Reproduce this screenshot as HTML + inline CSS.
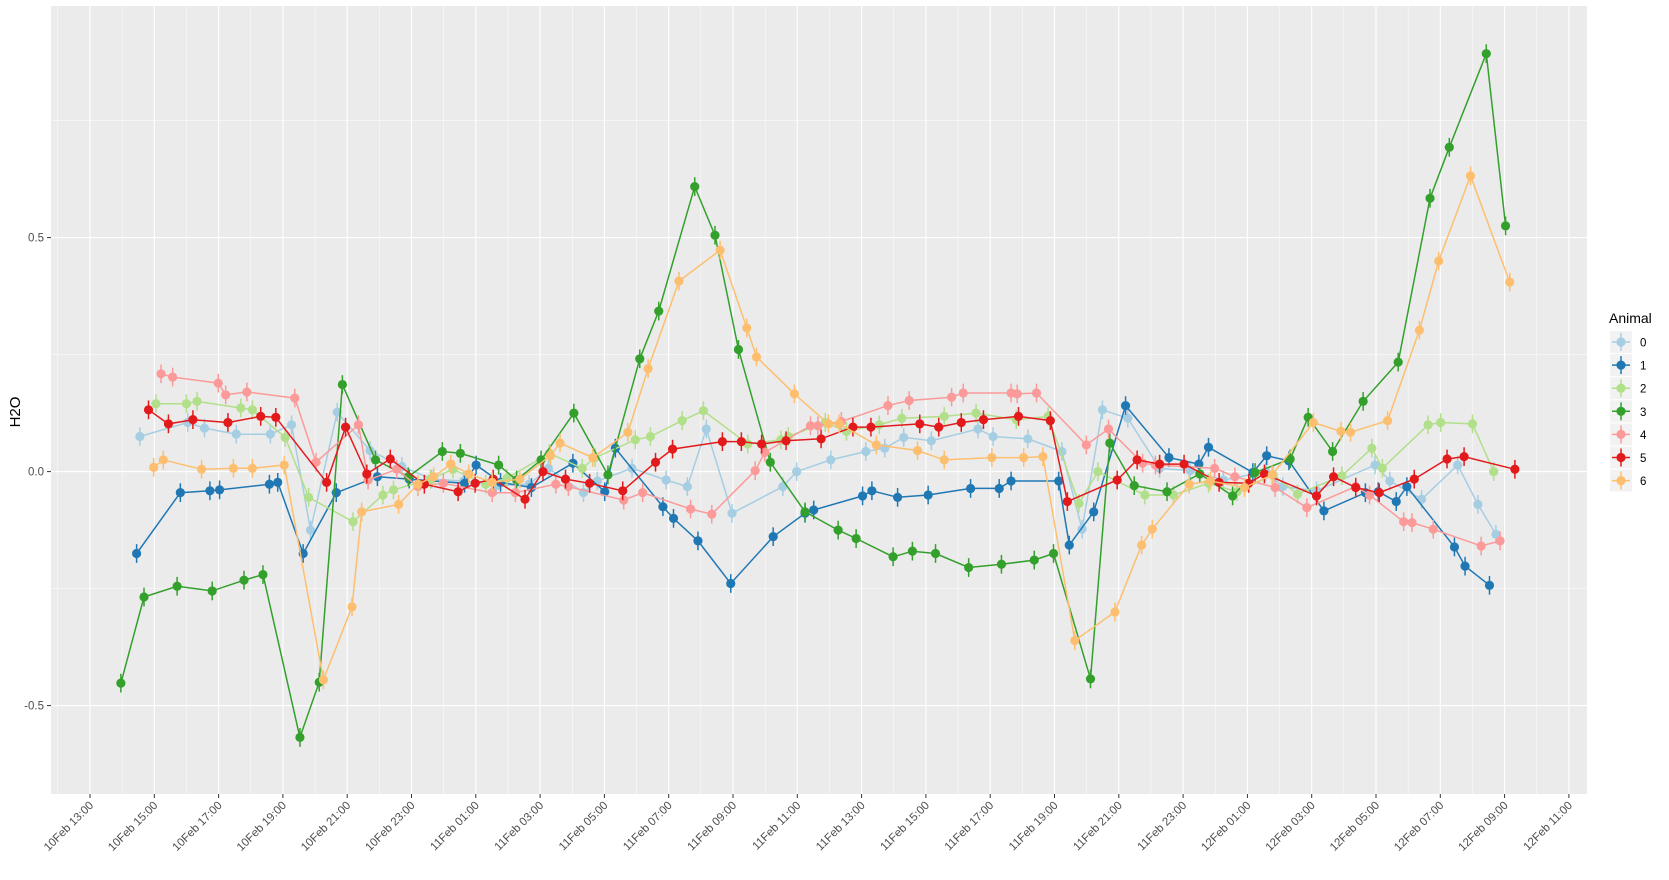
<!DOCTYPE html>
<html><head><meta charset="utf-8"><style>
html,body{margin:0;padding:0;background:#fff;}
svg{display:block;font-family:"Liberation Sans",Arial,sans-serif;}
</style></head><body>
<svg id="chart" width="1669" height="880">
<rect x="51" y="6" width="1536" height="788" fill="#ebebeb"/>
<g id="grid"></g>
<g id="series"></g>
<g id="axes"></g>
<text transform="translate(20,412) rotate(-90)" text-anchor="middle" font-size="15" fill="#000">H2O</text>
<g id="legend">
<text x="1609" y="323" font-size="14" fill="#000">Animal</text>
</g>
</svg>
<script>
const colors = ["#a6cee3","#1f78b4","#b2df8a","#33a02c","#fb9a99","#e31a1c","#fdbf6f"];
const yTicks = [-0.5, 0, 0.5];
const yTickLabels = ["-0.5","0.0","0.5"];
const xTickHours = [13,15,17,19,21,23,25,27,29,31,33,35,37,39,41,43,45,47,49,51,53,55,57,59];
const xTickLabels = ["10Feb 13:00","10Feb 15:00","10Feb 17:00","10Feb 19:00","10Feb 21:00","10Feb 23:00","11Feb 01:00","11Feb 03:00","11Feb 05:00","11Feb 07:00","11Feb 09:00","11Feb 11:00","11Feb 13:00","11Feb 15:00","11Feb 17:00","11Feb 19:00","11Feb 21:00","11Feb 23:00","12Feb 01:00","12Feb 03:00","12Feb 05:00","12Feb 07:00","12Feb 09:00","12Feb 11:00"];
const errHalf = 0.02;
const t0 = [14.55,16.04,16.56,17.55,18.61,19.27,19.86,20.69,21.71,22.70,23.63,24.62,25.64,26.66,27.26,28.35,28.78,29.86,30.92,31.58,32.17,32.97,34.55,34.98,36.04,37.13,37.72,38.31,39.17,40.62,41.09,42.17,43.23,43.86,44.49,45.28,46.27,47.22,48.25,49.57,50.10,51.15,52.97,53.43,54.42,55.54,56.17,56.73];
const v0 = [0.075,0.105,0.093,0.08,0.08,0.1,-0.125,0.127,0.045,0.011,-0.016,-0.02,-0.03,-0.027,0.007,-0.045,-0.02,0.007,-0.018,-0.032,0.091,-0.089,-0.032,0,0.025,0.043,0.05,0.073,0.066,0.091,0.075,0.07,0.043,-0.123,0.132,0.114,0.007,0.002,-0.018,0,-0.032,-0.041,0.014,-0.02,-0.059,0.014,-0.07,-0.134];
const t1 = [14.45,15.81,16.73,17.03,18.58,18.84,19.63,20.66,21.94,22.93,24.65,25.01,25.77,26.73,28.02,29.01,29.34,30.82,31.15,31.91,32.93,34.25,35.24,35.51,37.03,37.32,38.12,39.07,40.39,41.28,41.65,43.13,43.46,44.22,45.21,46.56,47.49,47.79,49.17,49.60,50.29,51.38,52.67,53.07,53.63,53.96,55.44,55.77,56.53];
const v1 = [-0.175,-0.045,-0.041,-0.039,-0.027,-0.023,-0.175,-0.045,-0.011,-0.016,-0.025,0.014,-0.023,-0.034,0.018,-0.043,0.05,-0.075,-0.1,-0.148,-0.239,-0.139,-0.089,-0.082,-0.052,-0.041,-0.055,-0.05,-0.036,-0.036,-0.02,-0.02,-0.157,-0.086,0.141,0.03,0.016,0.052,-0.002,0.034,0.023,-0.084,-0.045,-0.043,-0.064,-0.032,-0.161,-0.202,-0.243];
const t2 = [15.05,16.00,16.33,17.69,18.05,19.07,19.80,21.18,22.11,22.44,23.59,24.29,25.31,25.97,27.29,28.31,28.71,29.96,30.43,31.42,32.08,33.46,34.49,34.72,35.87,36.53,37.55,38.25,39.57,40.56,41.81,42.80,43.76,44.35,45.81,46.70,47.79,48.68,49.80,50.56,51.94,52.87,53.20,54.62,55.01,56.00,56.66];
const v2 = [0.145,0.145,0.15,0.136,0.132,0.073,-0.055,-0.107,-0.05,-0.039,-0.016,0.005,-0.027,-0.014,0.039,0.007,0.03,0.068,0.075,0.109,0.13,0.059,0.068,0.075,0.105,0.086,0.1,0.114,0.118,0.125,0.111,0.118,-0.068,0,-0.05,-0.05,-0.025,-0.043,-0.007,-0.048,-0.009,0.05,0.007,0.1,0.105,0.102,0];
const t3 = [13.96,14.68,15.71,16.80,17.79,18.38,19.53,20.13,20.85,21.88,22.90,23.96,24.52,25.71,26.27,27.03,28.05,29.11,30.10,30.69,31.81,32.44,33.17,34.16,35.24,36.27,36.83,37.98,38.58,39.30,40.33,41.35,42.37,42.97,44.12,44.72,45.48,46.50,47.52,48.54,49.24,50.33,50.89,51.65,52.60,53.69,54.68,55.28,56.43,57.03];
const v3 = [-0.452,-0.268,-0.245,-0.255,-0.232,-0.22,-0.568,-0.45,0.186,0.025,-0.011,0.043,0.039,0.014,-0.018,0.025,0.125,-0.007,0.241,0.343,0.609,0.505,0.261,0.02,-0.086,-0.125,-0.143,-0.182,-0.17,-0.175,-0.205,-0.198,-0.189,-0.175,-0.443,0.061,-0.03,-0.043,-0.005,-0.052,-0.002,0.027,0.116,0.043,0.15,0.234,0.584,0.693,0.893,0.525];
const t4 = [15.21,15.57,16.99,17.22,17.88,19.37,20.03,21.35,21.65,22.54,23.20,23.99,25.51,26.23,27.49,27.88,29.60,30.19,31.68,32.34,33.69,33.99,35.41,35.64,36.37,37.82,38.48,39.80,40.16,41.65,41.84,42.44,43.99,44.68,45.74,46.14,47.98,48.61,49.86,50.85,52.37,52.80,53.86,54.12,54.78,56.27,56.86];
const v4 = [0.209,0.202,0.189,0.164,0.17,0.157,0.02,0.1,-0.018,0.005,-0.032,-0.025,-0.045,-0.045,-0.027,-0.032,-0.061,-0.045,-0.08,-0.091,0.002,0.041,0.098,0.098,0.107,0.141,0.152,0.159,0.168,0.168,0.166,0.168,0.057,0.091,0.018,0.014,0.007,-0.011,-0.034,-0.077,-0.032,-0.05,-0.107,-0.109,-0.123,-0.159,-0.148];
const t5 = [14.82,15.44,16.20,17.29,18.31,18.78,20.36,20.95,21.61,22.34,23.40,24.45,24.98,25.54,26.53,27.09,27.79,28.54,29.57,30.59,31.12,32.67,33.26,33.89,34.65,35.74,36.73,37.29,38.81,39.40,40.10,40.79,41.88,42.87,43.40,44.95,45.57,46.27,47.03,48.12,49.04,49.53,51.15,51.68,52.37,53.10,54.19,55.21,55.74,57.32];
const v5 = [0.132,0.102,0.111,0.105,0.118,0.116,-0.023,0.095,-0.005,0.027,-0.027,-0.043,-0.025,-0.016,-0.059,0,-0.016,-0.025,-0.041,0.02,0.048,0.064,0.064,0.059,0.066,0.07,0.095,0.095,0.102,0.095,0.105,0.111,0.118,0.109,-0.064,-0.018,0.025,0.016,0.016,-0.023,-0.025,-0.005,-0.052,-0.011,-0.034,-0.045,-0.016,0.027,0.032,0.005];
const t6 = [14.98,15.28,16.47,17.46,18.05,19.04,20.26,21.15,21.45,22.60,23.20,23.69,24.22,24.78,25.51,26.37,27.32,27.62,28.64,29.73,30.36,31.32,32.60,33.43,33.73,34.91,35.97,36.30,37.46,38.74,39.57,41.05,42.04,42.64,43.63,44.88,45.71,46.04,47.19,47.85,48.91,49.77,51.05,51.91,52.21,53.36,54.35,54.95,55.94,57.16];
const v6 = [0.009,0.025,0.005,0.007,0.007,0.014,-0.445,-0.289,-0.086,-0.07,-0.027,-0.011,0.016,-0.005,-0.023,-0.016,0.034,0.061,0.03,0.084,0.22,0.407,0.473,0.307,0.245,0.166,0.102,0.102,0.057,0.045,0.025,0.03,0.03,0.032,-0.361,-0.3,-0.157,-0.123,-0.027,-0.02,-0.034,-0.007,0.105,0.086,0.084,0.109,0.302,0.45,0.632,0.405];
const seriesNames = ["0","1","2","3","4","5","6"];
const times = [t0,t1,t2,t3,t4,t5,t6];
const vals = [v0,v1,v2,v3,v4,v5,v6];

const NS = "http://www.w3.org/2000/svg";
const X = h => 90 + (h - 13) * 32.15;
const Y = v => 471.6 - v * 468;
function mk(tag, attrs, parent){ const e = document.createElementNS(NS, tag); for (const k in attrs) e.setAttribute(k, attrs[k]); parent.appendChild(e); return e; }

const grid = document.getElementById('grid');
for (let h = 12; h <= 59; h++) {
  const major = (h % 2 === 1);
  const l = mk('line', {x1:X(h), x2:X(h), y1:6, y2:794, stroke:'#fff', 'stroke-width': major?1.1:0.5}, grid);
  
  
}
for (let v = -0.75; v <= 1.0; v += 0.25) {
  const major = Math.abs(v*2 - Math.round(v*2)) < 1e-6;
  if (Y(v) < 6 || Y(v) > 794) continue;
  const l = mk('line', {x1:51, x2:1587, y1:Y(v), y2:Y(v), stroke:'#fff', 'stroke-width': major?1.1:0.5}, grid);
  
  
}
const axes = document.getElementById('axes');
yTicks.forEach((v, i) => {
  const t = mk('line', {x1:47, x2:51, y1:Y(v), y2:Y(v), stroke:'#333', 'stroke-width':1}, axes);
  
  
  const tx = mk('text', {x:44, y:Y(v)+4, 'text-anchor':'end', 'font-size':11.5, fill:'#4d4d4d'}, axes);
  tx.textContent = yTickLabels[i];
  
  
});
xTickHours.forEach((h, i) => {
  const t = mk('line', {x1:X(h), x2:X(h), y1:794, y2:798, stroke:'#333', 'stroke-width':1}, axes);
  
  
  const tx = mk('text', {transform:`translate(${X(h)+4},${806}) rotate(-45)`, 'text-anchor':'end', 'font-size':11.5, fill:'#4d4d4d'}, axes);
  tx.textContent = xTickLabels[i];
  
  
});

const sg = document.getElementById('series');
times.forEach((ts, s) => {
  const g = mk('g', {}, sg);
  
  
  const pts = ts.map((h, i) => X(h).toFixed(1) + ',' + Y(vals[s][i]).toFixed(1)).join(' ');
  const pl = mk('polyline', {points:pts, fill:'none', stroke:colors[s], 'stroke-width':1.5}, g);
  
  
  ts.forEach((h, i) => {
    const v = vals[s][i];
    const eb = mk('line', {x1:X(h), x2:X(h), y1:Y(v+errHalf), y2:Y(v-errHalf), stroke:colors[s], 'stroke-width':1.5}, g);
    
    
    const c = mk('circle', {cx:X(h), cy:Y(v), r:4.6, fill:colors[s]}, g);
    
    
  });
});

const lg = document.getElementById('legend');
seriesNames.forEach((n, i) => {
  const y0 = 331 + i * 23.1;
  const g = mk('g', {}, lg);
  
  
  mk('rect', {x:1610, y:y0, width:22, height:22, fill:'#f2f2f2'}, g);
  mk('line', {x1:1612, x2:1630, y1:y0+11, y2:y0+11, stroke:colors[i], 'stroke-width':1.5}, g);
  mk('line', {x1:1621, x2:1621, y1:y0+2, y2:y0+20, stroke:colors[i], 'stroke-width':1.5}, g);
  mk('circle', {cx:1621, cy:y0+11, r:4.6, fill:colors[i]}, g);
  const t = mk('text', {x:1640, y:y0+15.5, 'font-size':11.5, fill:'#000'}, g);
  t.textContent = n;
});
</script>
</body></html>
